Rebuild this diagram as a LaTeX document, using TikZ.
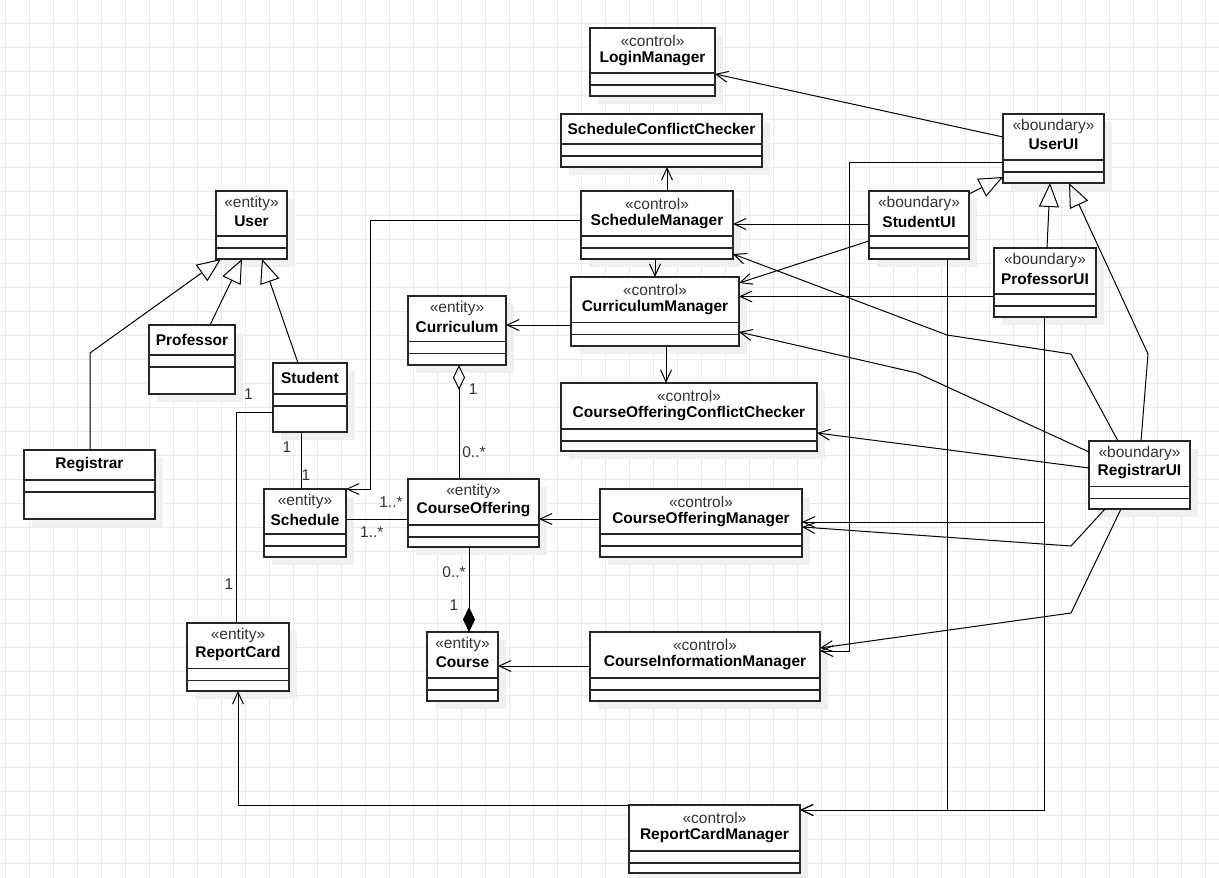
\documentclass[tikz,border=0pt]{standalone}
\usepackage{fontspec}
\setmainfont{Liberation Sans}
\usetikzlibrary{arrows.meta,calc,shadows}

\tikzset{
  gridline/.style={black!8,line width=0.8pt},
  umlbox/.style={rectangle,draw=black!85,fill=white,line width=1.1pt,
    inner sep=0pt,outer sep=0pt,anchor=north west,
    drop shadow={shadow xshift=8pt,shadow yshift=-8pt,fill=black!6,opacity=1}},
  umlline/.style={black!85,line width=1.1pt},
  stereo/.style={black!80,font=\fontsize{15.5}{18}\selectfont},
  clsname/.style={black,font=\fontsize{15.5}{18}\selectfont\bfseries},
  mult/.style={black!80,font=\fontsize{15.5}{18}\selectfont},
  conn/.style={black,line width=1pt},
  navarrow/.style={conn,-{Straight Barb[length=12pt,width=11pt]}},
  inherit/.style={conn,-{Triangle[open,length=24pt,width=20pt]}},
  aggr/.style={conn,-{Diamond[open,length=25pt,width=12pt]}},
  comp/.style={conn,-{Diamond[length=25pt,width=12pt]}}
}

\newcommand{\umlclass}[8]{%
  \node[umlbox,minimum width=#4pt,minimum height=#5pt] (#1) at (#2,#3) {};
  \draw[umlline] ($(#1.north west)+(0,#6)$) -- ($(#1.north east)+(0,#6)$);
  \draw[umlline] ($(#1.north west)+(0,#6+12)$) -- ($(#1.north east)+(0,#6+12)$);
  \ifx&#7&
    \node[clsname] (#1-name) at ($(#1.north)+(0,15)$) {#8};
  \else
    \node[stereo] (#1-st) at ($(#1.north)+(0,12.5)$) {«#7»};
    \node[clsname] (#1-name) at ($(#1.north)+(0,30.5)$) {#8};
  \fi
}

\begin{document}
\begin{tikzpicture}[x=1pt,y=-1pt]
\useasboundingbox (0,0) rectangle (1219,878);
\fill[white] (0,0) rectangle (1219,878);
\foreach \i in {0,...,50} \draw[gridline] ({5.3+24*\i},0) -- ({5.3+24*\i},878);
\foreach \j in {1,...,36} \draw[gridline] (0,{-0.3+24*\j}) -- (1219,{-0.3+24*\j});

\umlclass{User}{216}{191}{71}{68}{45}{entity}{User}
\umlclass{Professor}{149}{325}{86}{69}{30}{}{Professor}
\umlclass{Student}{273}{363}{74}{69}{31}{}{Student}
\umlclass{Registrar}{24}{450}{131}{69}{30}{}{Registrar}
\umlclass{Schedule}{264}{489}{82}{68}{45}{entity}{Schedule}
\umlclass{ReportCard}{187}{623}{102}{68}{45.5}{entity}{ReportCard}
\umlclass{Curriculum}{408}{296}{98}{69}{45.5}{entity}{Curriculum}
\umlclass{CourseOffering}{408}{479}{131}{68}{46}{entity}{CourseOffering}
\umlclass{Course}{427}{632}{71}{69}{46}{entity}{Course}
\umlclass{LoginMgr}{590}{28}{125}{68}{45}{control}{LoginManager}
\umlclass{SchedChecker}{561}{114}{201}{53}{30}{}{ScheduleConflictChecker}
\umlclass{SchedMgr}{581}{191}{152}{68}{45}{control}{ScheduleManager}
\umlclass{CurrMgr}{571}{277}{168}{69}{45.5}{control}{CurriculumManager}
\umlclass{OfferChecker}{561}{383}{256}{68}{46}{control}{CourseOfferingConflictChecker}
\umlclass{OfferMgr}{600}{489}{202}{68}{45}{control}{CourseOfferingManager}
\umlclass{CourseInfoMgr}{590}{632}{230}{69}{46}{control}{CourseInformationManager}
\umlclass{ReportMgr}{629}{805}{171}{68}{46}{control}{ReportCardManager}
\umlclass{UserUI}{1003}{114}{101}{69}{46}{boundary}{UserUI}
\umlclass{StudentUI}{869}{191}{100}{68}{45}{boundary}{StudentUI}
\umlclass{ProfessorUI}{994}{248}{102}{69}{46}{boundary}{ProfessorUI}
\umlclass{RegistrarUI}{1089}{441}{101}{68}{45.5}{boundary}{RegistrarUI}

\draw[inherit] ($(Registrar.north west)+(66,0)$) -- (90,353) -- ($(User.south west)+(5,0)$);
\draw[inherit] ($(Professor.north west)+(61,0)$) -- ($(User.south west)+(26,0)$);
\draw[inherit] ($(Student.north west)+(25,0)$) -- ($(User.south west)+(46,0)$);
\draw[inherit] ($(StudentUI.north east)+(0,3)$) -- ($(UserUI.south west)+(0,-6)$);
\draw[inherit] ($(ProfessorUI.north west)+(53,0)$) -- ($(UserUI.south west)+(47,0)$);
\draw[inherit] ($(RegistrarUI.north west)+(52,0)$) -- (1148,354) -- ($(UserUI.south west)+(66,0)$);

\draw[conn] ($(Student.south west)+(28,0)$) -- ($(Schedule.north west)+(37,0)$);
\draw[conn] ($(Student.north west)+(0,49)$) -| ($(ReportCard.north west)+(49,0)$);
\draw[conn] ($(Schedule.north east)+(0,30)$) -- ($(CourseOffering.north west)+(0,40)$);
\draw[aggr] ($(CourseOffering.north west)+(51,0)$) -- ($(Curriculum.south west)+(51,0)$);
\draw[comp] ($(CourseOffering.south west)+(61,0)$) -- ($(Course.north west)+(42,0)$);

\draw[navarrow] ($(UserUI.north west)+(0,23)$) -- ($(LoginMgr.north east)+(0,46)$);
\draw[navarrow] ($(SchedMgr.north west)+(86,0)$) -- ($(SchedChecker.south west)+(106,0)$);
\draw[navarrow] ($(SchedMgr.south west)+(74,0)$) -- ($(CurrMgr.north west)+(84,0)$);
\draw[navarrow] ($(SchedMgr.north west)+(0,29)$) -- (370,220) |- (Schedule.north east);
\draw[navarrow] ($(CurrMgr.north west)+(0,48)$) -- ($(Curriculum.north east)+(0,29)$);
\draw[navarrow] ($(CurrMgr.south west)+(95,0)$) -- ($(OfferChecker.north west)+(105,0)$);
\draw[navarrow] ($(OfferMgr.north west)+(0,30)$) -- ($(CourseOffering.north east)+(0,40)$);
\draw[navarrow] ($(CourseInfoMgr.north west)+(0,34)$) -- ($(Course.north east)+(0,34)$);
\draw[navarrow] (ReportMgr.north west) -| ($(ReportCard.south west)+(51,0)$);

\draw[navarrow] ($(StudentUI.north west)+(0,33)$) -- ($(SchedMgr.north east)+(0,33)$);
\draw[navarrow] ($(StudentUI.north west)+(0,50)$) -- ($(CurrMgr.north east)+(0,6)$);
\draw[navarrow] ($(StudentUI.south west)+(78,0)$) |- ($(ReportMgr.north east)+(0,5)$);
\draw[navarrow] ($(ProfessorUI.north west)+(0,48.5)$) -- ($(CurrMgr.north east)+(0,19.5)$);
\draw[navarrow] ($(ProfessorUI.south west)+(50,0)$) |- ($(OfferMgr.north east)+(0,33)$);
\draw[navarrow] ($(ProfessorUI.south west)+(50,0)$) |- ($(ReportMgr.north east)+(0,5)$);
\draw[navarrow] ($(UserUI.north west)+(0,48)$) -- (849,162) |- ($(CourseInfoMgr.north east)+(0,19)$);
\draw[navarrow] ($(RegistrarUI.north west)+(29,0)$) -- (1071,354) -- (947,335) -- ($(SchedMgr.south east)+(0,-5)$);
\draw[navarrow] ($(RegistrarUI.north west)+(0,11)$) -- (917,373) -- ($(CurrMgr.north east)+(0,55)$);
\draw[navarrow] ($(RegistrarUI.north west)+(0,27)$) -- ($(OfferChecker.north east)+(0,50)$);
\draw[navarrow] ($(RegistrarUI.south west)+(16,0)$) -- (1071,546) -- ($(OfferMgr.north east)+(0,38)$);
\draw[navarrow] ($(RegistrarUI.south west)+(32,0)$) -- (1071,613) -- ($(CourseInfoMgr.north east)+(0,16)$);

\node[mult] (m-st-rc) at (248.5,394.5) {1};
\node[mult] (m-rc-st) at (229,584) {1};
\node[mult] (m-st-sc) at (287,446.7) {1};
\node[mult] (m-sc-st) at (306,475.3) {1};
\node[mult] (m-co-sc) at (391,501.7) {1..*};
\node[mult] (m-sc-co) at (371.8,532) {1..*};
\node[mult] (m-cu-co) at (473.3,388.7) {1};
\node[mult] (m-co-cu) at (474,452) {0..*};
\node[mult] (m-co-c) at (454,572) {0..*};
\node[mult] (m-c-co) at (454,604.7) {1};
\end{tikzpicture}
\end{document}
